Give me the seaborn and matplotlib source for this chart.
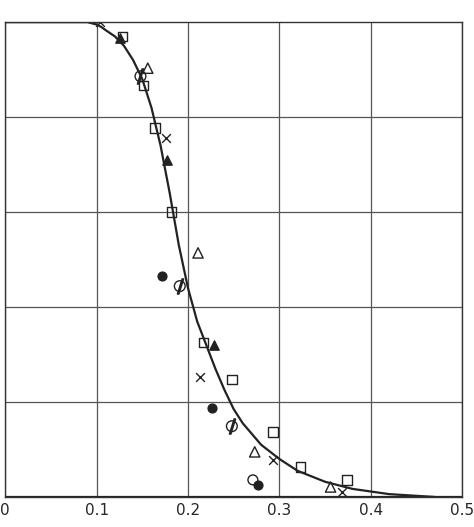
import matplotlib
matplotlib.use("Agg")
import matplotlib.pyplot as plt
import seaborn as sns
import pandas as pd

# fitted curve
curve_x = [0.0, 0.09, 0.10, 0.105, 0.11, 0.12, 0.13, 0.14, 0.15, 0.16, 0.17, 0.18, 0.19,
           0.20, 0.21, 0.22, 0.23, 0.24, 0.25, 0.26, 0.28, 0.30, 0.32, 0.35, 0.38, 0.42, 0.47]
curve_y = [1.0, 1.0, 0.995, 0.99, 0.983, 0.97, 0.95, 0.92, 0.88, 0.82, 0.74, 0.64, 0.53,
           0.44, 0.37, 0.32, 0.27, 0.225, 0.185, 0.155, 0.11, 0.08, 0.055, 0.032, 0.017, 0.006, 0.0]

sq_x = [0.128, 0.151, 0.164, 0.182, 0.217, 0.248, 0.293, 0.323, 0.374]
sq_y = [0.97, 0.867, 0.777, 0.60, 0.326, 0.248, 0.137, 0.063, 0.036]
tri_x = [0.156, 0.211, 0.273, 0.356]
tri_y = [0.903, 0.514, 0.095, 0.021]
ftri_x = [0.126, 0.177, 0.228]
ftri_y = [0.966, 0.709, 0.32]
dot_x = [0.172, 0.226, 0.277]
dot_y = [0.465, 0.187, 0.025]
cross_x = [0.104, 0.176, 0.213, 0.293, 0.369]
cross_y = [1.0, 0.756, 0.253, 0.078, 0.01]
slash_x = [0.148, 0.191, 0.248]
slash_y = [0.886, 0.444, 0.149]
ocirc_x = [0.271]
ocirc_y = [0.036]

sns.set_style("white")
plt.rcParams['font.family'] = ['DejaVu Sans']

fig = plt.figure(figsize=(4.74, 5.27), dpi=100)
ax = fig.add_axes([0.011, 0.057, 0.964, 0.901])

sns.lineplot(x=curve_x, y=curve_y, ax=ax, color="#222222", linewidth=1.6, sort=False)
ax.axhline(0, color="#222222", linewidth=1.6)

def pts(x, y, marker, filled=True, size=45):
    df = pd.DataFrame({"x": x, "y": y})
    kw = dict(facecolor="#222222") if filled else dict(facecolor="none")
    sns.scatterplot(data=df, x="x", y="y", ax=ax, marker=marker, s=size,
                    edgecolor="#222222", linewidth=1.0, **kw)

pts(sq_x, sq_y, "s", filled=False)
pts(tri_x, tri_y, "^", filled=False, size=55)
pts(ftri_x, ftri_y, "^", size=45)
pts(dot_x, dot_y, "o", size=40)
pts(ocirc_x, ocirc_y, "o", filled=False, size=50)
pts(slash_x, slash_y, "o", filled=False, size=60)
ax.scatter(slash_x, slash_y, marker=r"$/$", s=120, color="#222222")
ax.scatter(cross_x, cross_y, marker="x", s=40, color="#222222", linewidths=1.0)

ax.set_xlim(0, 0.5)
ax.set_ylim(0, 1.0)
ax.set_xticks([0.0, 0.1, 0.2, 0.3, 0.4, 0.5])
ax.set_xticklabels(["0", "0.1", "0.2", "0.3", "0.4", "0.5"])
ax.set_yticks([0.2, 0.4, 0.6, 0.8])
ax.set_yticklabels([])
ax.grid(True, color="#555555", linewidth=0.9)
ax.tick_params(axis="x", labelsize=11, length=0, pad=4)
ax.tick_params(axis="y", length=0)
ax.set_xlabel("")
ax.set_ylabel("")
for s in ax.spines.values():
    s.set_color("#333333")
    s.set_linewidth(1.0)

fig.savefig("out.png", dpi=100)
